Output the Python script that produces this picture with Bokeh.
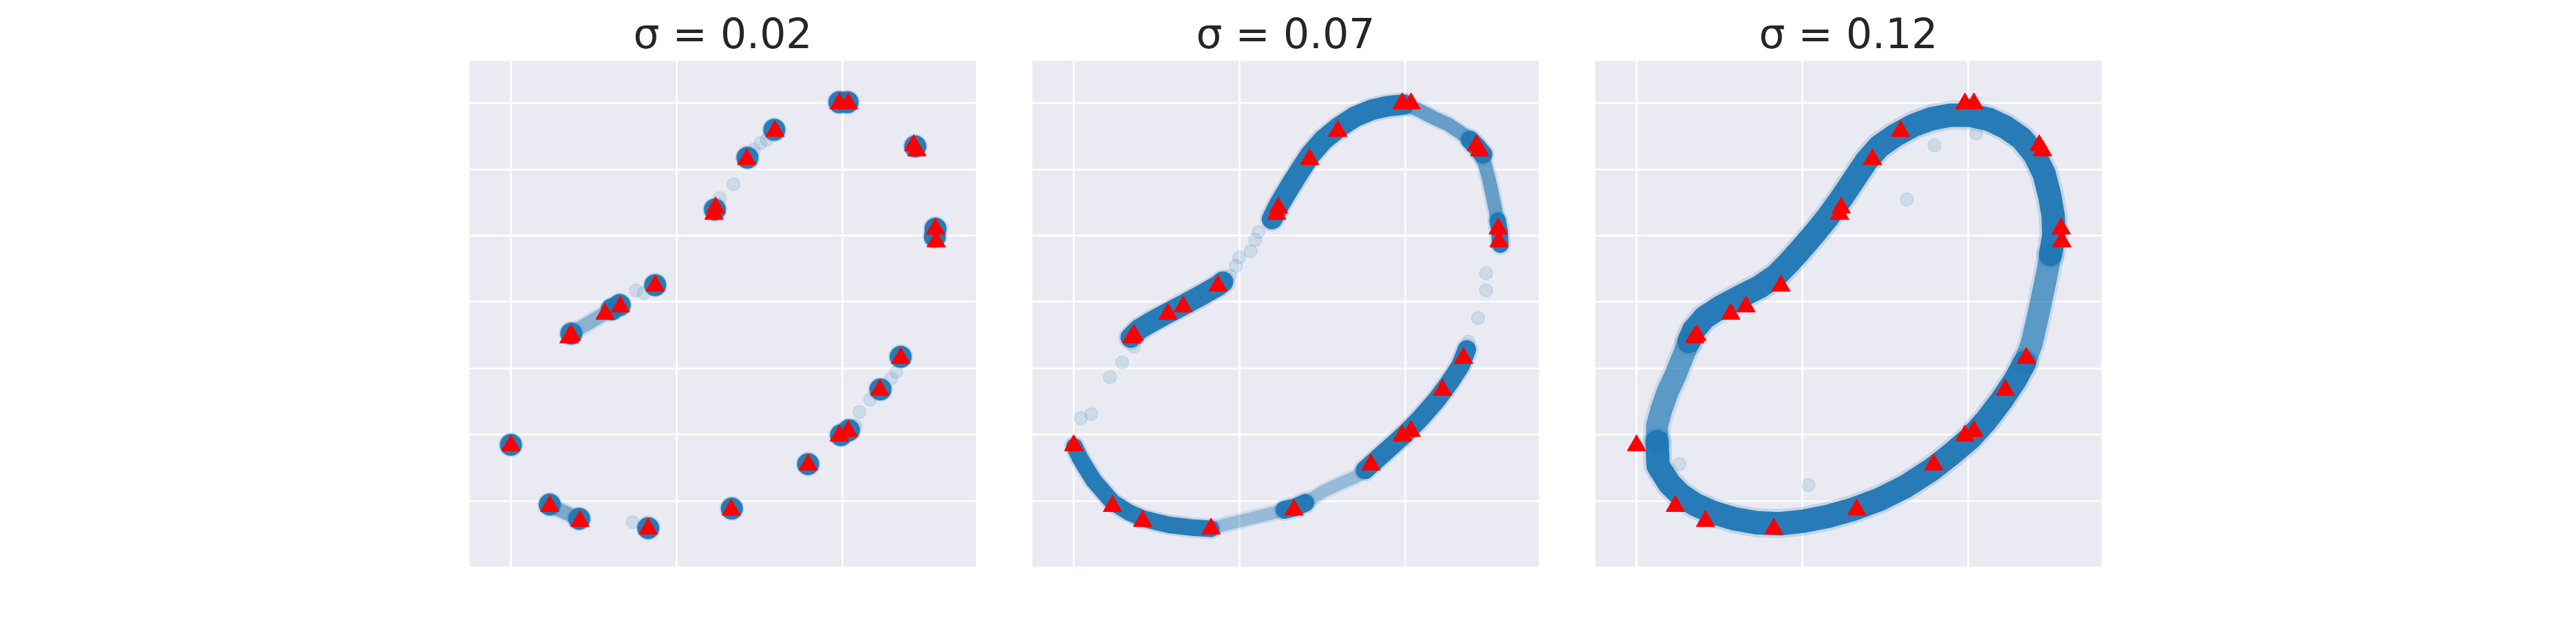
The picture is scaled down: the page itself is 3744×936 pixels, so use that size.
from bokeh.plotting import figure
from bokeh.layouts import row
from bokeh.models import Range1d, FixedTicker
from bokeh.embed import file_html
from bokeh.resources import INLINE

# ---------------- data ----------------
sigma_labels = ["σ = 0.02", "σ = 0.07", "σ = 0.12"]
x_ticks = [0.0, 0.5, 1.0]
y_ticks = [0.0, 0.2, 0.4, 0.6, 0.8, 1.0, 1.2]
x_lim = (-0.1246, 1.402)
y_lim = (-0.197, 1.3265)

# red triangles (same anchors in every panel)
anchor_x = [0.000, 0.117, 0.208, 0.414, 0.664, 0.896, 0.990, 1.017, 1.112, 1.175,
            1.280, 1.282, 1.214, 1.224, 0.990, 1.017, 0.796, 0.711, 0.617, 0.612,
            0.435, 0.330, 0.284, 0.182, 0.175]
anchor_y = [0.168, -0.015, -0.060, -0.083, -0.026, 0.110, 0.197, 0.211, 0.335, 0.431,
            0.821, 0.782, 1.072, 1.056, 1.198, 1.198, 1.115, 1.030, 0.884, 0.865,
            0.649, 0.586, 0.564, 0.500, 0.493]

# ---- sigma = 0.02: tight clusters of samples
blob02_x = [0.000, 0.117, 0.206, 0.414, 0.666, 0.896, 0.995, 1.019, 1.114, 1.175,
            1.280, 1.278, 1.219, 0.990, 1.015, 0.794, 0.713, 0.615, 0.435, 0.328,
            0.304, 0.182]
blob02_y = [0.170, -0.010, -0.053, -0.081, -0.022, 0.112, 0.199, 0.214, 0.337, 0.435,
            0.821, 0.797, 1.069, 1.202, 1.202, 1.119, 1.035, 0.879, 0.651, 0.591,
            0.578, 0.505]
bridge02a_x = [0.117, 0.206]
bridge02a_y = [-0.013, -0.053]
bridge02b_x = [0.197, 0.304]
bridge02b_y = [0.515, 0.578]
faint02_x = [0.367, 0.671, 0.630, 1.051, 1.039, 1.083, 0.377, 0.401, 0.752, 0.771,
             0.732, 1.146, 1.161]
faint02_y = [-0.063, 0.955, 0.913, 0.269, 0.228, 0.306, 0.635, 0.627, 1.079, 1.088,
             1.059, 0.369, 0.389]

# ---- sigma = 0.07: open band (centre lines of the sample cloud)
s07a_x = [0.002, 0.021, 0.060, 0.117, 0.167, 0.208, 0.284, 0.362, 0.414]
s07a_y = [0.165, 0.126, 0.063, -0.003, -0.034, -0.052, -0.071, -0.080, -0.083]
s07b_x = [0.414, 0.459, 0.508, 0.557, 0.615, 0.645]
s07b_y = [-0.083, -0.070, -0.058, -0.046, -0.032, -0.024]
s07c_x = [0.635, 0.666, 0.698]
s07c_y = [-0.026, -0.019, -0.005]
s07d_x = [0.698, 0.752, 0.800, 0.849, 0.888]
s07d_y = [-0.005, 0.029, 0.052, 0.073, 0.100]
s07e_x = [0.878, 0.946, 0.995, 1.044, 1.093, 1.131, 1.166, 1.185]
s07e_y = [0.094, 0.155, 0.199, 0.248, 0.304, 0.355, 0.408, 0.457]
s07f1_x = [1.286, 1.284, 1.278]
s07f1_y = [0.773, 0.811, 0.845]
s07f2_x = [1.278, 1.273, 1.263, 1.250, 1.239, 1.224]
s07f2_y = [0.845, 0.870, 0.918, 0.977, 1.016, 1.050]
s07g1_x = [1.234, 1.214, 1.195]
s07g1_y = [1.045, 1.069, 1.088]
s07g2_x = [1.195, 1.180, 1.131, 1.083, 1.034, 0.995]
s07g2_y = [1.088, 1.101, 1.134, 1.156, 1.181, 1.195]
s07g3_x = [0.995, 0.946, 0.898, 0.849, 0.800, 0.752, 0.713, 0.679, 0.649, 0.620, 0.598]
s07g3_y = [1.195, 1.190, 1.179, 1.159, 1.127, 1.088, 1.043, 0.991, 0.943, 0.894, 0.850]
s07h_x = [0.450, 0.435, 0.382, 0.330, 0.284, 0.236, 0.197, 0.172]
s07h_y = [0.661, 0.649, 0.619, 0.591, 0.567, 0.541, 0.518, 0.493]
faint07_x = [1.190, 1.219, 1.243, 1.243, 0.557, 0.547, 0.533, 0.499, 0.489, 0.471,
             0.182, 0.146, 0.109, 0.053, 0.021]
faint07_y = [0.481, 0.552, 0.635, 0.687, 0.811, 0.787, 0.753, 0.734, 0.709, 0.680,
             0.466, 0.418, 0.374, 0.262, 0.250]

# ---- sigma = 0.12: closed loop
s12a_x = [0.062, 0.065, 0.099, 0.133, 0.177, 0.231, 0.294, 0.362, 0.430, 0.499, 0.576,
          0.654, 0.732, 0.810, 0.888, 0.946, 1.005, 1.054, 1.102, 1.141, 1.170]
s12a_y = [0.180, 0.107, 0.053, 0.019, -0.010, -0.034, -0.053, -0.065, -0.068, -0.061,
          -0.046, -0.024, 0.005, 0.044, 0.094, 0.139, 0.189, 0.243, 0.306, 0.364, 0.418]
s12b_x = [1.170, 1.190, 1.204, 1.217, 1.229, 1.239, 1.248]
s12b_y = [0.418, 0.471, 0.530, 0.588, 0.646, 0.695, 0.743]
s12c_x = [1.248, 1.258, 1.256, 1.246, 1.229, 1.200, 1.161, 1.112, 1.063, 1.005, 0.946,
          0.888, 0.834, 0.781, 0.732, 0.693, 0.654, 0.615, 0.576, 0.537, 0.499, 0.460,
          0.421, 0.372, 0.314, 0.255, 0.206, 0.172, 0.158]
s12c_y = [0.743, 0.802, 0.860, 0.918, 0.986, 1.045, 1.093, 1.127, 1.150, 1.163, 1.163,
          1.152, 1.132, 1.103, 1.069, 1.025, 0.967, 0.909, 0.855, 0.807, 0.763, 0.719,
          0.680, 0.646, 0.617, 0.586, 0.554, 0.515, 0.481]
s12d_x = [0.158, 0.138, 0.119, 0.094, 0.075, 0.062, 0.062]
s12d_y = [0.481, 0.432, 0.384, 0.330, 0.277, 0.228, 0.180]
faint12_x = [0.815, 0.898, 0.129, 0.518, 1.024]
faint12_y = [0.909, 1.072, 0.112, 0.049, 1.108]

# ---------------- styling ----------------
BLUE = "#1f77b4"
BG = "#EAEAF2"
TEXT = "#262626"


def make_fig(i, width, left, right):
    p = figure(width=width, height=920, output_backend="svg", toolbar_location=None,
               x_range=Range1d(*x_lim), y_range=Range1d(*y_lim),
               x_axis_location=None, y_axis_location=None,
               min_border_left=left, min_border_right=right,
               min_border_top=88, min_border_bottom=97,
               title=sigma_labels[i])
    p.title.align = "center"
    p.title.text_font = "DejaVu Sans"
    p.title.text_font_size = "60px"
    p.title.text_font_style = "normal"
    p.title.text_color = TEXT
    p.title.standoff = 10
    p.background_fill_color = BG
    p.border_fill_color = "white"
    p.outline_line_color = None
    p.xgrid.ticker = FixedTicker(ticks=x_ticks)
    p.ygrid.ticker = FixedTicker(ticks=y_ticks)
    p.grid.grid_line_color = "white"
    p.grid.grid_line_width = 2.6
    p.grid.grid_line_alpha = 1.0
    return p


def band(p, xs, ys, width, core_alpha, halo_alpha, halo_extra):
    p.line(xs, ys, line_color=BLUE, line_width=width + halo_extra, line_alpha=halo_alpha,
           line_cap="round", line_join="round")
    p.line(xs, ys, line_color=BLUE, line_width=width, line_alpha=core_alpha,
           line_cap="round", line_join="round")


def faint(p, xs, ys):
    p.scatter(xs, ys, marker="circle", size=19, fill_color=BLUE, fill_alpha=0.14,
              line_color=BLUE, line_alpha=0.12, line_width=1.5)


def triangles(p):
    p.scatter(anchor_x, anchor_y, marker="triangle", size=27, fill_color="red",
              line_color="red", line_width=1)


# panel 1
p1 = make_fig(0, 1459, 682, 41)
faint(p1, faint02_x, faint02_y)
band(p1, bridge02a_x, bridge02a_y, 20, 0.5, 0.12, 6)
band(p1, bridge02b_x, bridge02b_y, 20, 0.4, 0.12, 6)
p1.scatter(blob02_x, blob02_y, marker="circle", size=36, fill_color=BLUE, fill_alpha=0.18,
           line_color=None)
p1.scatter(blob02_x, blob02_y, marker="circle", size=32, fill_color=BLUE, fill_alpha=0.95,
           line_color=None)
triangles(p1)

# panel 2
p2 = make_fig(1, 818, 41, 41)
faint(p2, faint07_x, faint07_y)
for xs, ys in [(s07b_x, s07b_y), (s07d_x, s07d_y)]:
    band(p2, xs, ys, 18, 0.32, 0.12, 6)
for xs, ys in [(s07f2_x, s07f2_y), (s07g2_x, s07g2_y)]:
    band(p2, xs, ys, 20, 0.6, 0.15, 6)
band(p2, s07a_x, s07a_y, 24, 0.95, 0.18, 6)
band(p2, s07c_x, s07c_y, 26, 0.95, 0.18, 6)
band(p2, s07e_x, s07e_y, 27, 0.95, 0.18, 6)
band(p2, s07f1_x, s07f1_y, 24, 0.95, 0.18, 6)
band(p2, s07g1_x, s07g1_y, 27, 0.95, 0.18, 6)
band(p2, s07g3_x, s07g3_y, 30, 0.95, 0.18, 6)
band(p2, s07h_x, s07h_y, 30, 0.95, 0.18, 6)
triangles(p2)

# panel 3
p3 = make_fig(2, 1451, 41, 674)
faint(p3, faint12_x, faint12_y)
band(p3, s12b_x, s12b_y, 32, 0.65, 0.15, 8)
band(p3, s12d_x, s12d_y, 32, 0.65, 0.15, 8)
band(p3, s12a_x, s12a_y, 34, 0.95, 0.18, 8)
band(p3, s12c_x, s12c_y, 34, 0.95, 0.18, 8)
triangles(p3)

layout = row(p1, p2, p3)
open("out.html", "w").write(file_html(layout, INLINE))
